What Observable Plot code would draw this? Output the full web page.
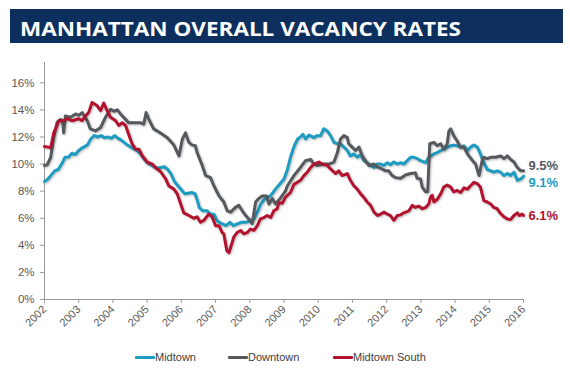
<!DOCTYPE html>
<html>
<head>
<meta charset="utf-8">
<script src="https://cdn.jsdelivr.net/npm/d3@7"></script>
<script src="https://cdn.jsdelivr.net/npm/@observablehq/plot@0.6"></script>
<style>
  html, body { margin: 0; padding: 0; background: #fff; }
  body { width: 570px; height: 375px; position: relative; overflow: hidden; font-family: "Liberation Sans", Arial, sans-serif; }
  #title { position: absolute; left: 10px; top: 9px; }
  #chart { position: absolute; left: 0; top: 50px; }
  #legend { position: absolute; top: 349px; left: 0; width: 570px; height: 16px; font-size: 11px; color: #404040; }
  #legend .item { position: absolute; top: 0; display: flex; align-items: center; height: 16px; }
  #legend .sw { width: 20px; height: 3px; border-radius: 1px; margin-right: 0px; }
  #chart g[aria-label="line"] path { filter: drop-shadow(1.2px 1.5px 0.8px rgba(0,0,0,0.28)); }
</style>
</head>
<body>
<svg id="title" width="553" height="34">
  <rect x="0" y="0" width="553" height="34" fill="#0d2f5e"></rect>
  <text x="10" y="27" fill="#fff" font-family="'Open Sans', 'Liberation Sans', Arial, sans-serif" font-weight="700" font-size="20" textLength="441" lengthAdjust="spacingAndGlyphs">MANHATTAN OVERALL VACANCY RATES</text>
</svg>
<div id="chart"></div>
<div id="legend"></div>
<script>
const title = "MANHATTAN OVERALL VACANCY RATES";
const seriesNames = ["Midtown", "Downtown", "Midtown South"];
const seriesColors = ["#1d9cc2", "#55595d", "#b3122f"];
const yearTicks = [2002,2003,2004,2005,2006,2007,2008,2009,2010,2011,2012,2013,2014,2015,2016];
const pctTicks = [0,2,4,6,8,10,12,14,16];
const endLabels = ["9.1%", "9.5%", "6.1%"];

const midtown = [
[2002.00,8.7],[2002.10,8.9],[2002.20,9.2],[2002.30,9.5],[2002.40,9.6],[2002.50,10.0],[2002.60,10.5],[2002.70,10.5],
[2002.80,10.8],[2002.90,10.7],[2003.00,11.0],[2003.10,11.2],[2003.25,11.4],[2003.35,11.85],[2003.45,12.1],[2003.55,12.0],
[2003.65,12.1],[2003.75,11.95],[2003.85,12.0],[2003.95,11.9],[2004.05,12.1],[2004.15,11.9],[2004.25,11.75],[2004.40,11.45],
[2004.55,11.2],[2004.70,11.0],[2004.80,10.75],[2004.90,10.4],[2005.00,10.1],[2005.10,9.95],[2005.20,9.8],[2005.30,9.7],
[2005.40,9.75],[2005.50,9.8],[2005.60,9.6],[2005.70,9.25],[2005.80,8.7],[2005.90,8.4],[2006.00,8.1],[2006.10,7.8],
[2006.20,7.85],[2006.30,7.9],[2006.40,7.8],[2006.47,7.3],[2006.52,6.8],[2006.62,6.55],[2006.75,6.55],[2006.85,6.3],
[2006.95,6.3],[2007.05,5.8],[2007.18,5.6],[2007.30,5.45],[2007.42,5.7],[2007.52,5.45],[2007.65,5.6],[2007.75,5.7],
[2007.88,5.7],[2008.00,5.8],[2008.12,5.95],[2008.22,6.45],[2008.32,7.05],[2008.42,7.4],[2008.52,7.5],[2008.62,7.7],
[2008.75,8.15],[2008.90,8.6],[2009.00,8.9],[2009.10,9.6],[2009.20,10.6],[2009.30,11.35],[2009.40,11.85],[2009.48,12.0],
[2009.55,12.2],[2009.63,11.85],[2009.73,12.15],[2009.87,11.95],[2009.97,12.1],[2010.07,12.1],[2010.16,12.6],[2010.26,12.45],
[2010.36,12.1],[2010.46,11.6],[2010.56,11.5],[2010.65,11.5],[2010.75,11.25],[2010.85,11.0],[2010.94,10.6],[2011.04,10.75],
[2011.14,10.5],[2011.24,10.7],[2011.33,10.25],[2011.43,10.1],[2011.53,9.9],[2011.63,9.75],[2011.72,10.0],[2011.82,10.0],
[2011.92,9.9],[2012.02,10.1],[2012.11,9.95],[2012.21,10.15],[2012.31,10.0],[2012.41,10.1],[2012.50,10.0],[2012.60,10.25],
[2012.70,10.5],[2012.80,10.5],[2012.90,10.4],[2012.99,10.25],[2013.14,10.1],[2013.23,10.5],[2013.38,10.75],[2013.48,10.85],
[2013.58,11.0],[2013.67,11.1],[2013.77,11.25],[2013.87,11.35],[2013.96,11.4],[2014.06,11.35],[2014.16,11.25],[2014.26,11.35],
[2014.36,11.0],[2014.45,11.25],[2014.55,11.4],[2014.65,11.25],[2014.74,10.75],[2014.84,10.1],[2014.94,9.6],[2015.04,9.5],
[2015.13,9.4],[2015.23,9.5],[2015.33,9.4],[2015.43,9.15],[2015.53,9.3],[2015.62,9.15],[2015.72,9.4],[2015.82,8.8],
[2015.92,8.9],[2016.00,9.1]
];

const downtown = [
[2002.00,9.9],[2002.08,9.95],[2002.18,10.5],[2002.27,12.0],[2002.37,13.1],[2002.47,13.3],[2002.53,13.2],[2002.56,12.3],
[2002.61,13.55],[2002.76,13.45],[2002.91,13.7],[2003.00,13.6],[2003.10,13.8],[2003.25,13.2],[2003.34,12.6],[2003.49,12.45],
[2003.64,12.7],[2003.78,13.45],[2003.93,14.05],[2004.03,13.9],[2004.13,14.0],[2004.22,13.7],[2004.37,13.3],[2004.46,13.05],
[2004.61,13.05],[2004.81,13.05],[2004.90,12.95],[2004.97,13.8],[2005.05,13.3],[2005.19,12.6],[2005.39,12.3],[2005.59,11.95],
[2005.78,11.4],[2005.93,10.6],[2006.03,11.85],[2006.12,12.3],[2006.22,11.6],[2006.32,11.4],[2006.41,11.35],[2006.46,10.85],
[2006.61,9.9],[2006.71,9.15],[2006.85,9.0],[2006.95,8.4],[2007.10,7.65],[2007.24,7.2],[2007.34,6.55],[2007.44,6.45],
[2007.58,6.8],[2007.68,6.95],[2007.78,6.55],[2007.88,6.2],[2007.97,5.95],[2008.07,5.6],[2008.17,7.2],[2008.26,7.45],
[2008.36,7.65],[2008.49,7.65],[2008.56,7.05],[2008.66,7.45],[2008.75,7.05],[2008.90,7.5],[2009.04,8.0],[2009.10,8.4],
[2009.29,9.15],[2009.48,9.75],[2009.63,10.25],[2009.78,10.35],[2009.87,10.0],[2009.97,9.9],[2010.16,10.0],[2010.31,10.0],
[2010.46,10.15],[2010.56,10.85],[2010.65,11.85],[2010.75,12.1],[2010.85,11.95],[2010.89,11.5],[2010.99,11.25],[2011.09,11.0],
[2011.19,11.25],[2011.29,10.6],[2011.38,10.25],[2011.48,9.9],[2011.63,10.0],[2011.72,9.8],[2011.82,9.7],[2011.97,9.5],
[2012.06,9.5],[2012.16,9.15],[2012.26,9.0],[2012.41,8.95],[2012.55,9.2],[2012.70,9.3],[2012.84,9.35],[2012.89,8.95],
[2012.99,8.9],[2013.04,8.3],[2013.14,7.95],[2013.20,7.95],[2013.26,11.5],[2013.38,11.6],[2013.48,11.35],[2013.58,11.5],
[2013.67,11.1],[2013.77,11.5],[2013.82,12.45],[2013.87,12.6],[2013.96,12.1],[2014.06,11.7],[2014.16,11.25],[2014.26,11.25],
[2014.36,10.75],[2014.51,10.25],[2014.60,10.0],[2014.70,9.15],[2014.80,10.35],[2014.84,10.5],[2014.94,10.4],[2015.04,10.5],
[2015.18,10.5],[2015.33,10.6],[2015.43,10.4],[2015.53,10.6],[2015.62,10.35],[2015.72,10.15],[2015.82,9.75],[2015.92,9.5],
[2016.00,9.5]
];

const midtownSouth = [
[2002.00,11.3],[2002.10,11.25],[2002.18,11.2],[2002.27,12.3],[2002.42,13.2],[2002.56,13.2],[2002.66,13.35],[2002.81,13.2],
[2003.00,13.35],[2003.10,13.2],[2003.20,13.55],[2003.29,13.8],[2003.39,14.55],[2003.54,14.3],[2003.64,13.95],[2003.73,14.5],
[2003.83,13.95],[2003.93,13.45],[2004.08,13.2],[2004.17,12.85],[2004.27,13.05],[2004.37,12.85],[2004.46,12.2],[2004.56,11.5],
[2004.66,11.1],[2004.76,11.1],[2004.86,10.6],[2005.00,10.15],[2005.15,10.0],[2005.24,9.75],[2005.39,9.45],[2005.54,8.9],
[2005.63,8.4],[2005.78,8.15],[2005.88,7.8],[2005.98,7.05],[2006.07,6.4],[2006.22,6.2],[2006.36,6.0],[2006.46,6.1],
[2006.56,5.7],[2006.66,5.85],[2006.80,6.3],[2006.90,6.1],[2007.00,5.45],[2007.10,5.45],[2007.19,4.95],[2007.24,4.85],
[2007.33,3.6],[2007.39,3.45],[2007.46,4.0],[2007.53,4.6],[2007.63,4.95],[2007.73,5.1],[2007.83,4.85],[2007.93,4.95],
[2008.02,5.2],[2008.12,5.1],[2008.22,5.45],[2008.31,5.95],[2008.41,6.05],[2008.51,6.2],[2008.61,6.05],[2008.70,6.55],
[2008.80,6.7],[2008.85,7.15],[2008.95,7.1],[2009.04,7.55],[2009.19,7.9],[2009.29,8.5],[2009.39,8.65],[2009.48,8.8],
[2009.58,9.15],[2009.68,9.4],[2009.78,9.75],[2009.87,10.0],[2010.02,10.15],[2010.12,10.0],[2010.26,9.9],[2010.36,9.65],
[2010.51,9.3],[2010.60,9.5],[2010.70,9.15],[2010.85,9.3],[2010.94,8.8],[2011.04,8.4],[2011.14,8.15],[2011.24,7.8],
[2011.33,7.55],[2011.43,7.2],[2011.53,6.95],[2011.63,6.45],[2011.73,6.2],[2011.82,6.3],[2011.92,6.45],[2012.02,6.3],
[2012.11,6.2],[2012.21,5.85],[2012.31,6.2],[2012.41,6.25],[2012.50,6.4],[2012.65,6.55],[2012.75,6.95],[2012.84,6.8],
[2012.94,6.9],[2013.04,6.7],[2013.14,6.8],[2013.23,7.05],[2013.28,7.55],[2013.33,7.7],[2013.38,7.2],[2013.48,7.4],
[2013.58,7.8],[2013.67,8.3],[2013.77,8.45],[2013.87,8.3],[2013.96,7.95],[2014.06,8.05],[2014.16,7.9],[2014.26,8.25],
[2014.36,8.15],[2014.45,8.4],[2014.55,8.65],[2014.65,8.55],[2014.74,8.3],[2014.84,7.3],[2014.94,7.2],[2015.04,7.05],
[2015.13,6.8],[2015.23,6.7],[2015.33,6.35],[2015.43,6.1],[2015.53,5.95],[2015.62,5.9],[2015.72,6.2],[2015.82,6.4],
[2015.88,6.2],[2015.96,6.3],[2016.00,6.2]
];

const seriesData = [midtown, downtown, midtownSouth];
const rows = seriesData.flatMap((arr, i) => arr.map(([year, value]) => ({series: seriesNames[i], year, value})));
const lastRows = seriesData.map((arr, i) => ({series: seriesNames[i], year: arr[arr.length - 1][0], value: arr[arr.length - 1][1], label: endLabels[i]}));
const labelDy = {"Midtown": 7, "Downtown": -5, "Midtown South": 0};

const chart = Plot.plot({
  width: 570,
  height: 295,
  marginTop: 12,
  marginBottom: 46,
  marginLeft: 44,
  marginRight: 47,
  style: {fontFamily: "'Liberation Sans', Arial, sans-serif", fontSize: "11px", background: "transparent", overflow: "visible"},
  x: {domain: [2002, 2016]},
  y: {domain: [0, 17.5]},
  color: {domain: seriesNames, range: seriesColors},
  marks: [
    Plot.axisX({ticks: yearTicks, tickFormat: d => String(d), tickRotate: -45, tickSize: 4, tickPadding: 4, label: null, stroke: "#9a9a9a", fill: "#595959", fontSize: 11}),
    Plot.axisY({ticks: pctTicks, tickFormat: d => d + "%", tickSize: 4, tickPadding: 6, label: null, stroke: "#9a9a9a", fill: "#595959", fontSize: 11.5}),
    Plot.ruleX([2002], {stroke: "#9a9a9a", strokeWidth: 1}),
    Plot.ruleY([0], {stroke: "#9a9a9a", strokeWidth: 1}),
    Plot.line(rows, {x: "year", y: "value", z: "series", stroke: "series", strokeWidth: 3, strokeLinejoin: "round", strokeLinecap: "round"}),
    ...lastRows.map(r => Plot.text([r], {x: "year", y: "value", text: "label", fill: "series", textAnchor: "start", dx: 5, dy: labelDy[r.series], fontSize: 13, fontWeight: "bold"}))
  ]
});
document.getElementById("chart").appendChild(chart);

const legend = document.getElementById("legend");
const legendLeft = [135, 228, 333];
seriesNames.forEach((name, i) => {
  const item = document.createElement("div");
  item.className = "item";
  item.style.left = legendLeft[i] + "px";
  const sw = document.createElement("span");
  sw.className = "sw";
  sw.style.background = seriesColors[i];
  const tx = document.createElement("span");
  tx.textContent = name;
  item.appendChild(sw);
  item.appendChild(tx);
  legend.appendChild(item);
});
</script>
</body>
</html>
